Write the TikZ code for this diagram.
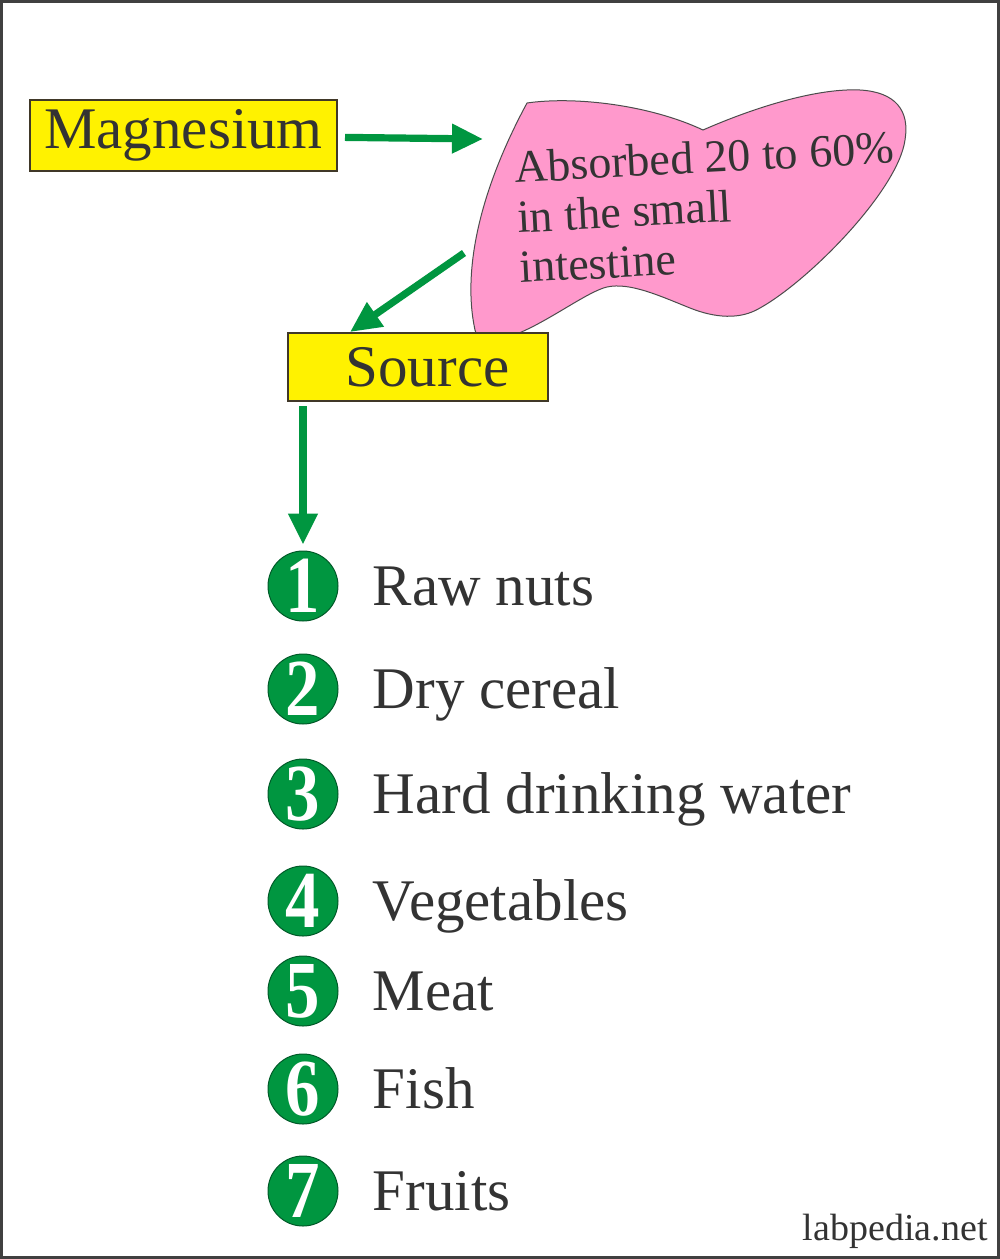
\documentclass[tikz,border=0pt]{standalone}
\usepackage{fontspec}
\setmainfont{LiberationSerif}[Extension=.ttf, UprightFont=*-Regular, BoldFont=*-Bold, ItalicFont=*-Italic, BoldItalicFont=*-BoldItalic]
\usetikzlibrary{positioning, arrows.meta}
\definecolor{mgyellow}{RGB}{255,242,0}
\definecolor{mgpink}{RGB}{255,153,204}
\definecolor{mggreen}{RGB}{0,150,64}
\definecolor{mgdarkgreen}{RGB}{0,90,40}
\definecolor{txtgray}{RGB}{51,51,51}
\definecolor{edgegray}{RGB}{64,56,40}
\definecolor{framegray}{RGB}{64,64,64}
\newcommand{\cond}[1]{\scalebox{0.85}[1]{#1}}

\begin{document}
\begin{tikzpicture}[x=0.5pt, y=-0.5pt,
    box node/.style={rectangle, draw=edgegray, line width=1pt, fill=mgyellow, inner sep=0pt, font=\fontsize{29.5pt}{32pt}\selectfont},
    num node/.style={circle, draw=mgdarkgreen, line width=0.5pt, fill=mggreen, minimum size=35pt, inner sep=0pt, text=white, font=\fontsize{40.5pt}{40pt}\selectfont\bfseries},
    item/.style={inner sep=0pt, text height=19.5pt, text depth=0pt, font=\fontsize{29.5pt}{32pt}\selectfont},
    arr/.style={draw=mggreen, line width=3.6pt, -{Triangle[length=15.5pt, width=14pt]}}]
            \tikzstyle{every node}=[text=txtgray]

              \useasboundingbox (0,0) rectangle (1000,1259);
              \draw[framegray, line width=1.5pt] (1.5,1.5) rectangle (998.5,1257.5);

              % pink blob
              \filldraw[fill=mgpink, draw=black!70, line width=0.5pt]
                (527,103) .. controls (575,96) and (650,105) .. (703,130)
                .. controls (760,105) and (820,88) .. (860,90)
                .. controls (895,92) and (910,110) .. (905,140)
                .. controls (898,190) and (810,280) .. (760,308)
                .. controls (740,320) and (715,318) .. (690,308)
                .. controls (660,296) and (630,282) .. (607,287)
                .. controls (590,291) and (560,313) .. (530,328)
                .. controls (505,340) and (480,350) .. (475,330)
                .. controls (462,270) and (480,190) .. (527,103) -- cycle;

              \node[box node, minimum width=153.5pt, minimum height=35.5pt] (magnesium) at (183.5,135.5) {Magnesium};
              \node[box node, minimum width=130pt, minimum height=34pt] (source) at (418,367) {\hspace{9.5pt}Source};
              \node[inner sep=0pt, rotate=3, anchor=west, align=left, font=\fontsize{23pt}{25pt}\selectfont] (absorb) at (517,217) {Absorbed 20 to 60\%\\in the small\\intestine};

              \coordinate (blobin) at (483,139);
              \coordinate (blobout) at (464,253);

              % list
              \node[num node] (1) at (303,586) {\cond{1}};
              \node[item] (raw) [right=17pt of 1] {Raw nuts};
              \node[num node] (2) at (303,689) {\cond{2}};
              \node[item] (cereal) [right=17pt of 2] {Dry cereal};
              \node[num node] (3) at (303,794) {\cond{3}};
              \node[item] (water) [right=17pt of 3] {Hard drinking water};
              \node[num node] (4) at (303,901) {\cond{4}};
              \node[item] (veg) [right=17pt of 4] {Vegetables};
              \node[num node] (5) at (303,991) {\cond{5}};
              \node[item] (meat) [right=17pt of 5] {Meat};
              \node[num node] (6) at (303,1089) {\cond{6}};
              \node[item] (fish) [right=17pt of 6] {Fish};
              \node[num node] (7) at (303,1191) {\cond{7}};
              \node[item] (fruits) [right=17pt of 7] {Fruits};

              \node[anchor=base east, inner sep=0pt, font=\fontsize{19pt}{20pt}\selectfont] (site) at (988,1240) {labpedia.net};

              \draw[arr, shorten <=3.5pt] (magnesium) -- (blobin);
              \draw[arr] (blobout) -- ([xshift=31.5pt]source.north west);
              \draw[arr] ([yshift=-2pt]source.south -| 1.north) -- ([yshift=3pt]1.north);

            \end{tikzpicture}
\end{document}
